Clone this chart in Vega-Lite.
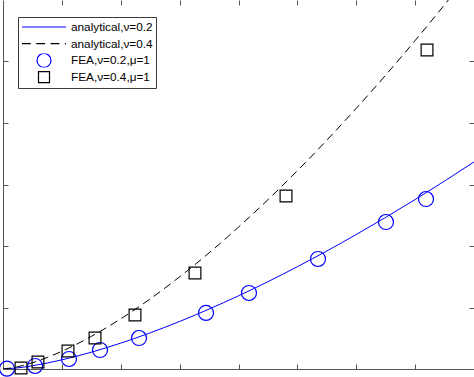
{
  "$schema": "https://vega.github.io/schema/vega-lite/v6.json",
  "width": 471,
  "height": 369,
  "autosize": {"type": "none"},
  "padding": {"left": 3, "top": 0, "right": 0, "bottom": 8},
  "background": "white",
  "datasets": {
    "a02": [
      {"x": 0, "y": 0}, {"x": 0.25, "y": 0.0186}, {"x": 0.5, "y": 0.0526}, {"x": 0.75, "y": 0.0966},
      {"x": 1, "y": 0.1488}, {"x": 1.5, "y": 0.2733}, {"x": 2, "y": 0.4208}, {"x": 2.5, "y": 0.5882},
      {"x": 3, "y": 0.7732}, {"x": 3.5, "y": 0.9743}, {"x": 4, "y": 1.19}, {"x": 4.5, "y": 1.42},
      {"x": 5, "y": 1.664}, {"x": 5.5, "y": 1.919}, {"x": 6, "y": 2.187}, {"x": 6.5, "y": 2.466},
      {"x": 7, "y": 2.756}, {"x": 7.5, "y": 3.056}, {"x": 8, "y": 3.367}
    ],
    "a04": [
      {"x": 0, "y": 0}, {"x": 0.25, "y": 0.036}, {"x": 0.5, "y": 0.102}, {"x": 0.75, "y": 0.187},
      {"x": 1, "y": 0.288}, {"x": 1.5, "y": 0.53}, {"x": 2, "y": 0.816}, {"x": 2.5, "y": 1.14},
      {"x": 3, "y": 1.499}, {"x": 3.5, "y": 1.888}, {"x": 4, "y": 2.307}, {"x": 4.5, "y": 2.753},
      {"x": 5, "y": 3.224}, {"x": 5.5, "y": 3.72}, {"x": 6, "y": 4.239}, {"x": 6.5, "y": 4.779},
      {"x": 7, "y": 5.341}, {"x": 7.5, "y": 5.924}, {"x": 8, "y": 6.527}
    ],
    "fea": [
      {"series": "FEA,ν=0.2,μ=1", "x": 0.068, "y": 0.005},
      {"series": "FEA,ν=0.2,μ=1", "x": 0.544, "y": 0.049},
      {"series": "FEA,ν=0.2,μ=1", "x": 1.121, "y": 0.163},
      {"series": "FEA,ν=0.2,μ=1", "x": 1.648, "y": 0.309},
      {"series": "FEA,ν=0.2,μ=1", "x": 2.31, "y": 0.504},
      {"series": "FEA,ν=0.2,μ=1", "x": 3.448, "y": 0.911},
      {"series": "FEA,ν=0.2,μ=1", "x": 4.178, "y": 1.236},
      {"series": "FEA,ν=0.2,μ=1", "x": 5.35, "y": 1.789},
      {"series": "FEA,ν=0.2,μ=1", "x": 6.505, "y": 2.39},
      {"series": "FEA,ν=0.2,μ=1", "x": 7.185, "y": 2.764},
      {"series": "FEA,ν=0.4,μ=1", "x": 0.306, "y": 0.016},
      {"series": "FEA,ν=0.4,μ=1", "x": 0.594, "y": 0.114},
      {"series": "FEA,ν=0.4,μ=1", "x": 1.104, "y": 0.293},
      {"series": "FEA,ν=0.4,μ=1", "x": 1.563, "y": 0.504},
      {"series": "FEA,ν=0.4,μ=1", "x": 2.242, "y": 0.878},
      {"series": "FEA,ν=0.4,μ=1", "x": 3.261, "y": 1.561},
      {"series": "FEA,ν=0.4,μ=1", "x": 4.807, "y": 2.813},
      {"series": "FEA,ν=0.4,μ=1", "x": 7.202, "y": 5.187}
    ]
  },
  "layer": [
    {
      "data": {"name": "a02"},
      "mark": {"type": "line", "color": "#0000ff", "strokeWidth": 1, "clip": true, "interpolate": "monotone"},
      "encoding": {
        "x": {"field": "x", "type": "quantitative", "scale": {"domain": [0, 8], "nice": false, "zero": false},
              "axis": {"orient": "bottom", "values": [1, 2, 3, 4, 5, 6, 7, 8], "labels": false, "ticks": true, "tickSize": -5, "domain": true, "grid": false, "title": null}},
        "y": {"field": "y", "type": "quantitative", "scale": {"domain": [0, 6], "nice": false, "zero": false},
              "axis": {"orient": "left", "values": [1, 2, 3, 4, 5], "labels": false, "ticks": true, "tickSize": -5, "domain": true, "grid": false, "title": null}}
      }
    },
    {
      "data": {"name": "a04"},
      "mark": {"type": "line", "color": "#000000", "strokeWidth": 1, "strokeDash": [8, 5], "clip": true, "interpolate": "monotone"},
      "encoding": {
        "x": {"field": "x", "type": "quantitative",
              "axis": {"orient": "top", "values": [1, 2, 3, 4, 5, 6, 7, 8], "labels": false, "ticks": true, "tickSize": -5, "domain": false, "grid": false, "title": null}},
        "y": {"field": "y", "type": "quantitative",
              "axis": {"orient": "right", "values": [1, 2, 3, 4, 5], "labels": false, "ticks": true, "tickSize": -5, "domain": false, "grid": false, "title": null}}
      }
    },
    {
      "data": {"name": "fea"},
      "mark": {"type": "point", "filled": false, "size": 2225, "strokeWidth": 1.2, "opacity": 1, "clip": false},
      "encoding": {
        "x": {"field": "x", "type": "quantitative", "axis": null},
        "y": {"field": "y", "type": "quantitative", "axis": null},
        "color": {"field": "series", "type": "nominal",
                  "scale": {"domain": ["analytical,ν=0.2", "analytical,ν=0.4", "FEA,ν=0.2,μ=1", "FEA,ν=0.4,μ=1"],
                            "range": ["#0000ff", "#000000", "#0000ff", "#000000"]},
                  "legend": {"title": null, "orient": "none", "legendX": 15, "legendY": 17, "padding": 3,
                             "strokeColor": "#3a3a3a", "fillColor": "white", "symbolSize": 1936, "symbolStrokeWidth": 1.2,
                             "symbolOffset": 0, "labelOffset": 4, "clipHeight": 14, "labelFont": "Liberation Sans", "labelFontSize": 11.8,
                             "labelColor": "#000000", "labelLimit": 300, "rowPadding": 2.7}},
        "shape": {"field": "series", "type": "nominal",
                  "scale": {"domain": ["analytical,ν=0.2", "analytical,ν=0.4", "FEA,ν=0.2,μ=1", "FEA,ν=0.4,μ=1"],
                            "range": ["M-1,0H1", "M-1,0H-0.6M-0.35,0H0.05M0.3,0H0.7M0.95,0H1", "M0.318,0A0.318,0.318 0 1,1 -0.318,0A0.318,0.318 0 1,1 0.318,0Z", "M-0.25,-0.25H0.25V0.25H-0.25Z"]},
                  "legend": {"title": null, "orient": "none", "legendX": 15, "legendY": 17, "padding": 3,
                             "strokeColor": "#3a3a3a", "fillColor": "white", "symbolSize": 1936, "symbolStrokeWidth": 1.2,
                             "symbolOffset": 0, "labelOffset": 4, "clipHeight": 14, "labelFont": "Liberation Sans", "labelFontSize": 11.8,
                             "labelColor": "#000000", "labelLimit": 300, "rowPadding": 2.7}}
      }
    }
  ],
  "resolve": {"axis": {"x": "independent", "y": "independent"}},
  "config": {
    "view": {"stroke": null},
    "axis": {"domainColor": "#555555", "tickColor": "#555555", "domainWidth": 1, "tickWidth": 1}
  }
}
